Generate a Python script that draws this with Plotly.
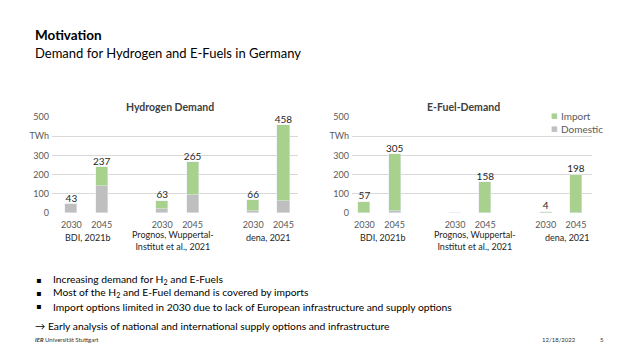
import plotly.graph_objects as go

# ---- data ----
x_pos = [0, 1, 3, 4, 6, 7]
year_labels = ["2030", "2045", "2030", "2045", "2030", "2045"]
groups = ["BDI, 2021b", "Prognos, Wuppertal-<br>Institut et al., 2021", "dena, 2021"]

h2_domestic = [43, 138, 20, 93, 10, 59]
h2_import = [0, 99, 43, 172, 56, 399]

ef_domestic = [0, 10, 0, 0, 0, 0]
ef_import = [57, 295, 0, 158, 4, 198]

y_tickvals = [0, 100, 200, 300, 400, 500]
y_ticktext = ["0", "100", "200", "300", "TWh", "500"]

GREEN = "#A9D18E"
GRAY = "#BFBFBF"
FONT = "Lato"
W, H = 638, 359


def px(x):
    return x / W


def py(y):
    return 1 - y / H


fig = go.Figure()


def add_chart(dom, imp, xa, ya):
    fig.add_trace(go.Bar(x=x_pos, y=dom, name="Domestic", marker_color=GRAY,
                         width=0.4, xaxis=xa, yaxis=ya, showlegend=False))
    fig.add_trace(go.Bar(x=x_pos, y=imp, name="Import", marker_color=GREEN,
                         width=0.4, xaxis=xa, yaxis=ya, showlegend=False))
    totals = [d + i for d, i in zip(dom, imp)]
    xs = [x for x, t in zip(x_pos, totals) if t > 0]
    ts = [t for t in totals if t > 0]
    fig.add_trace(go.Scatter(x=xs, y=ts, mode="text", text=[str(t) for t in ts],
                             textposition="top center", cliponaxis=False,
                             textfont=dict(size=10, color="#262626", family=FONT),
                             xaxis=xa, yaxis=ya, showlegend=False, hoverinfo="skip"))


add_chart(h2_domestic, h2_import, "x", "y")
add_chart(ef_domestic, ef_import, "x2", "y2")

ydom = [py(213.3), py(114.7)]
axis_common = dict(showgrid=False, zeroline=False, showline=False,
                   tickmode="array", tickvals=x_pos, ticktext=year_labels,
                   tickfont=dict(size=9, color="#595959", family=FONT), ticks="",
                   ticklabelstandoff=5, fixedrange=True)
yaxis_common = dict(range=[0, 500], tickmode="array", tickvals=y_tickvals,
                    ticktext=y_ticktext, showgrid=True, gridcolor="#D9D9D9",
                    gridwidth=1, zeroline=False, showline=False,
                    tickfont=dict(size=9, color="#595959", family=FONT),
                    ticklabelstandoff=2,
                    domain=ydom, fixedrange=True)

fig.update_layout(
    width=W, height=H, margin=dict(l=0, r=0, t=0, b=0),
    paper_bgcolor="white", plot_bgcolor="white",
    barmode="stack", bargap=0, showlegend=False,
    font=dict(family=FONT, color="#262626"),
    xaxis=dict(domain=[px(52), px(298)], range=[-0.64, 7.48], anchor="y", **axis_common),
    yaxis=dict(anchor="x", **yaxis_common),
    xaxis2=dict(domain=[px(352), px(592)], range=[-0.41, 7.53], anchor="y2", **axis_common),
    yaxis2=dict(anchor="x2", **yaxis_common),
)

ann = []


def text(x, y, s, size, color="#000000", xanchor="left", bold=False, align="left", family=FONT):
    ann.append(dict(x=px(x), y=py(y), xref="paper", yref="paper",
                    text=(f"<b>{s}</b>" if bold else s),
                    showarrow=False, xanchor=xanchor, yanchor="middle", align=align,
                    font=dict(size=size, color=color, family=family)))


text(33, 30, "Motivation", 13.5, bold=True)
text(33, 49, "Demand for Hydrogen and E-Fuels in Germany", 13)

text(170, 104, "Hydrogen Demand", 10.5, color="#404040", xanchor="center", bold=True)
text(463, 104, "E-Fuel-Demand", 10.5, color="#404040", xanchor="center", bold=True)

# legend (manual)
text(549, 113, "■", 7, color=GREEN, family="DejaVu Sans")
text(559, 113, "Import", 10, color="#595959")
text(549, 126.5, "■", 7, color=GRAY, family="DejaVu Sans")
text(559, 126.5, "Domestic", 10, color="#595959")

# group labels under the charts
h_group_x = [87, 173, 268]
e_group_x = [382, 475, 567]
for gx, g in zip(h_group_x, groups):
    text(gx, 242 if "<br>" in g else 238.5, g, 9, color="#262626", xanchor="center", align="center")
for gx, g in zip(e_group_x, groups):
    text(gx, 242 if "<br>" in g else 238.5, g, 9, color="#262626", xanchor="center", align="center")

bullets = ["Increasing demand for H<sub>2</sub> and E-Fuels",
           "Most of the H<sub>2</sub> and E-Fuel demand is covered by imports",
           "Import options limited in 2030 due to lack of European infrastructure and supply options"]
for i, b in enumerate(bullets):
    yy = 283 + i * 13.5
    text(34, yy, "▪", 8, family="DejaVu Sans")
    text(51, yy, b, 10.3)
text(33, 330, "→ Early analysis of national and international supply options and infrastructure", 10.3)

text(33, 344, "<b><i>IER</i></b> Universität Stuttgart", 6, color="#333333")
text(540, 344, "12/18/2022", 6, color="#333333")
text(598, 344, "5", 6, color="#333333")

fig.update_layout(annotations=ann)
fig.write_html("out.html", post_script="document.body.style.margin='0px';",
               config={"displayModeBar": False})
